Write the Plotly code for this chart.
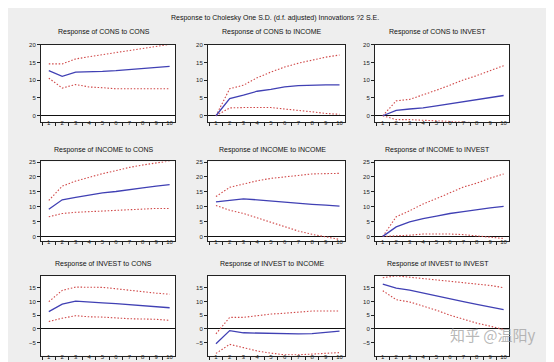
import plotly.graph_objects as go
from plotly.subplots import make_subplots

periods = [1, 2, 3, 4, 5, 6, 7, 8, 9, 10]

main_title = "Response to Cholesky One S.D. (d.f. adjusted) Innovations ?2 S.E."

panel_titles = [
    "Response of CONS to CONS", "Response of CONS to INCOME", "Response of CONS to INVEST",
    "Response of INCOME to CONS", "Response of INCOME to INCOME", "Response of INCOME to INVEST",
    "Response of INVEST to CONS", "Response of INVEST to INCOME", "Response of INVEST to INVEST",
]

# CONS responses
cons_cons = [12.7, 11.1, 12.3, 12.3, 12.5, 12.7, 13.0, 13.3, 13.6, 13.9]
cons_cons_up = [14.6, 14.6, 16.0, 16.7, 17.2, 17.8, 18.4, 18.9, 19.5, 20.1]
cons_cons_lo = [10.6, 7.8, 8.8, 8.1, 7.9, 7.6, 7.6, 7.6, 7.6, 7.6]

cons_income = [0.0, 4.8, 5.8, 6.9, 7.4, 8.1, 8.5, 8.7, 8.7, 8.7]
cons_income_up = [0.0, 7.6, 8.6, 10.7, 12.3, 13.7, 14.8, 15.7, 16.5, 17.1]
cons_income_lo = [0.0, 2.2, 2.3, 2.3, 2.3, 1.9, 1.4, 1.1, 0.65, 0.4]

cons_invest = [0.0, 1.5, 1.9, 2.2, 2.8, 3.4, 3.9, 4.6, 5.1, 5.7]
cons_invest_up = [0.0, 4.2, 4.6, 5.8, 7.2, 8.6, 10.1, 11.3, 12.7, 14.1]
cons_invest_lo = [0.0, -1.1, -1.1, -1.3, -1.4, -1.6, -1.8, -2.0, -2.1, -2.3]

# INCOME responses
income_cons = [9.1, 12.3, 13.1, 13.9, 14.6, 15.1, 15.8, 16.3, 16.9, 17.4]
income_cons_up = [12.1, 16.9, 18.6, 19.9, 21.1, 22.1, 23.2, 24.0, 24.8, 25.4]
income_cons_lo = [6.6, 7.7, 8.1, 8.3, 8.7, 8.9, 9.1, 9.3, 9.4, 9.4]

income_income = [11.6, 12.1, 12.6, 12.3, 11.9, 11.4, 11.1, 10.8, 10.5, 10.2]
income_income_up = [13.4, 16.5, 17.6, 18.7, 19.5, 20.1, 20.5, 21.0, 21.1, 21.2]
income_income_lo = [10.4, 8.8, 7.7, 6.2, 4.7, 3.1, 1.8, 0.7, -0.1, -1.0]

income_invest = [0.0, 3.2, 4.9, 6.0, 6.8, 7.7, 8.3, 9.0, 9.6, 10.1]
income_invest_up = [0.0, 6.6, 8.6, 10.9, 12.7, 14.6, 16.6, 17.9, 19.6, 21.0]
income_invest_lo = [0.0, 0.1, 0.4, 0.8, 0.9, 0.8, 0.6, 0.2, -0.2, -0.7]

# INVEST responses
invest_cons = [6.3, 9.0, 10.1, 9.9, 9.5, 9.2, 8.8, 8.3, 8.0, 7.7]
invest_cons_up = [9.9, 14.0, 15.2, 15.2, 15.1, 14.6, 14.0, 13.5, 13.0, 12.6]
invest_cons_lo = [2.7, 3.9, 4.8, 4.4, 4.3, 3.9, 3.7, 3.6, 3.5, 3.1]

invest_income = [-5.4, -0.6, -1.4, -1.5, -1.8, -1.8, -1.8, -1.7, -1.3, -0.8]
invest_income_up = [-1.8, 4.2, 4.2, 4.8, 5.4, 5.7, 6.0, 6.5, 6.5, 6.5]
invest_income_lo = [-8.9, -5.6, -6.8, -8.0, -8.8, -9.4, -9.4, -9.2, -8.9, -8.6]

invest_invest = [16.3, 14.8, 14.1, 13.0, 11.9, 10.8, 9.9, 8.9, 7.9, 7.0]
invest_invest_up = [18.6, 19.3, 18.8, 18.3, 17.9, 17.5, 17.0, 16.4, 15.8, 15.0]
invest_invest_lo = [13.9, 10.6, 9.8, 8.4, 6.8, 5.0, 3.5, 2.1, 1.0, -0.2]

panels = [
    (cons_cons, cons_cons_up, cons_cons_lo),
    (cons_income, cons_income_up, cons_income_lo),
    (cons_invest, cons_invest_up, cons_invest_lo),
    (income_cons, income_cons_up, income_cons_lo),
    (income_income, income_income_up, income_income_lo),
    (income_invest, income_invest_up, income_invest_lo),
    (invest_cons, invest_cons_up, invest_cons_lo),
    (invest_income, invest_income_up, invest_income_lo),
    (invest_invest, invest_invest_up, invest_invest_lo),
]

row_yticks = [[0, 5, 10, 15, 20], [0, 5, 10, 15, 20, 25], [-5, 0, 5, 10, 15]]
row_yranges = [[-1.7, 20.0], [-1.47, 25.2], [-9.7, 19.2]]

W, H = 554, 362
col_px = [(33, 167), (200, 337), (367, 501)]
row_px = [(34, 111.7), (151.7, 231.7), (267.3, 347.5)]
row_title_px = [21.5, 140, 255]

BLUE = "#4040b4"
RED = "#d04848"
FONT = "Liberation Sans, Arial, sans-serif"

fig = make_subplots(rows=3, cols=3)

for i, (mid, up, lo) in enumerate(panels):
    r, c = i // 3 + 1, i % 3 + 1
    fig.add_trace(go.Scatter(x=periods, y=up, mode="lines",
                             line=dict(color=RED, width=1.1, dash="1.5px,1.8px"),
                             showlegend=False, hoverinfo="skip"), row=r, col=c)
    fig.add_trace(go.Scatter(x=periods, y=lo, mode="lines",
                             line=dict(color=RED, width=1.1, dash="1.5px,1.8px"),
                             showlegend=False, hoverinfo="skip"), row=r, col=c)
    fig.add_trace(go.Scatter(x=periods, y=mid, mode="lines",
                             line=dict(color=BLUE, width=1.3),
                             showlegend=False), row=r, col=c)

    x0, x1 = col_px[c - 1]
    y0, y1 = row_px[r - 1]
    fig.update_xaxes(domain=[x0 / W, x1 / W], range=[0.42, 10.4],
                     tickvals=periods, ticktext=[str(p) for p in periods],
                     ticks="", ticklen=0, ticklabelstandoff=-5,
                     showgrid=False, zeroline=False,
                     showline=True, linecolor="#222", linewidth=1, mirror=True,
                     tickfont=dict(size=6, color="#222", family=FONT),
                     minor=dict(ticks="outside", tick0=0.5, dtick=1, ticklen=3,
                                tickcolor="#222", showgrid=False),
                     row=r, col=c)
    fig.update_yaxes(domain=[1 - y1 / H, 1 - y0 / H], range=row_yranges[r - 1],
                     tickvals=row_yticks[r - 1], ticks="outside", ticklen=3,
                     tickcolor="#222", showgrid=False,
                     zeroline=True, zerolinecolor="#111", zerolinewidth=1,
                     showline=True, linecolor="#222", linewidth=1, mirror=True,
                     tickfont=dict(size=6, color="#222", family=FONT),
                     row=r, col=c)
    fig.add_annotation(text=panel_titles[i], xref="paper", yref="paper",
                       x=(x0 + x1) / 2 / W - 0.008, y=1 - row_title_px[r - 1] / H,
                       showarrow=False, xanchor="center", yanchor="middle",
                       font=dict(size=7, color="#111", family=FONT))

fig.add_annotation(text=main_title, xref="paper", yref="paper",
                   x=267 / W, y=1 - 7 / H, showarrow=False,
                   xanchor="center", yanchor="middle",
                   font=dict(size=7, color="#111", family=FONT))

fig.add_annotation(text="知乎 @温阳y", xref="paper", yref="paper",
                   x=440 / W, y=1 - 326 / H, showarrow=False,
                   xanchor="left", yanchor="middle",
                   font=dict(size=15, color="rgba(160,160,160,0.75)",
                             family="Noto Sans CJK SC"))

fig.update_layout(width=W, height=H, margin=dict(l=0, r=0, t=0, b=0),
                  paper_bgcolor="#eeeeee", plot_bgcolor="#ffffff",
                  showlegend=False)

fig.write_html("out.html")
